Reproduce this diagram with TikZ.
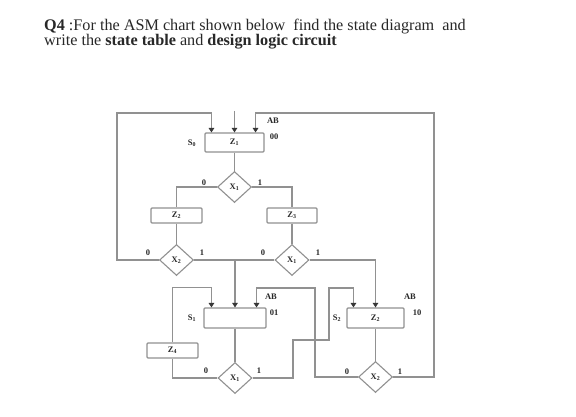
\documentclass[tikz,border=0pt]{standalone}
\usepackage{fontspec}
\setmainfont{Liberation Serif}
\usetikzlibrary{shapes.geometric,arrows.meta,calc}
\definecolor{lgray}{RGB}{145,145,145}
\definecolor{agray}{RGB}{55,55,55}
\definecolor{tgray}{RGB}{40,40,40}
\newcommand\dlbl{\fontsize{8.5}{9}\selectfont\bfseries}
\begin{document}
\begin{tikzpicture}[x=1pt,y=-1pt,
  ln/.style={draw=lgray,line width=1.3pt},
  arr/.style={draw=lgray,line width=1.3pt,-{Triangle[width=5.5pt,length=4.5pt,color=agray]}},
  box/.style={draw=lgray,line width=1.1pt,rounded corners=1pt,minimum height=19pt,inner sep=0pt,font=\dlbl,text=tgray},
  dia/.style={diamond,draw=lgray,line width=1.1pt,minimum width=34pt,minimum height=31pt,inner sep=0pt,font=\dlbl,text=tgray},
  lab/.style={font=\dlbl,text=tgray,inner sep=0pt},
  ttl/.style={anchor=base west,inner sep=0pt,text=tgray,font=\fontsize{16.2}{16}\selectfont}]
\useasboundingbox[fill=white] (0,0) rectangle (576,417);
% title
\node[ttl] (t1) at (44,30.5) {\textbf{Q4} :For the ASM chart shown below\ \ find the state diagram\ \ and};
\node[ttl] (t2) at (44,46) {write the \textbf{state table} and \textbf{design logic circuit}};
% nodes
\node[box,minimum width=59pt] (s0) at (234.5,142.5) {Z\textsubscript{1}};
\node[dia] (d1) at (234.5,187) {X\textsubscript{1}};
\node[box,minimum width=51pt,minimum height=15pt] (z2) at (176.5,215.5) {Z\textsubscript{2}};
\node[box,minimum width=50pt,minimum height=15pt] (z3) at (292,215.5) {Z\textsubscript{3}};
\node[dia] (d2) at (176.5,260) {X\textsubscript{2}};
\node[dia] (d3) at (292,260) {X\textsubscript{1}};
\node[box,minimum width=62pt,minimum height=20pt] (s1) at (235,318) {};
\node[dia] (d4) at (235,378) {X\textsubscript{1}};
\node[box,minimum width=51pt,minimum height=15pt] (z4) at (172.5,350.5) {Z\textsubscript{4}};
\node[box,minimum width=57pt,minimum height=20pt] (s2) at (375.5,318) {Z\textsubscript{2}};
\node[dia] (d5) at (375.5,377) {X\textsubscript{2}};
% coordinates
\coordinate (top) at (234.5,111);
\coordinate (c1) at (117,113);
\coordinate (c2) at (434,113);
\coordinate (c4) at (293,340);
\coordinate (c5) at (329,288);
\coordinate (c6) at (315,288);
\coordinate (s0a) at ($(s0.north west)+(7,0)$);
\coordinate (s0c) at ($(s0.north east)+(-9,0)$);
\coordinate (s1a) at ($(s1.north west)+(8,0)$);
\coordinate (s1c) at ($(s1.north east)+(-10,0)$);
\coordinate (s2a) at ($(s2.north west)+(7,0)$);
% connectors
\draw[arr] (top) -- (s0.north);
\draw[arr] (d2.west) -| (c1) -| (s0a);
\draw[arr] (d5.east) -| (c2) -| (s0c);
\draw[ln] (s0.south) -- (d1.north);
\draw[ln] (d1.west) -| (z2.north);
\draw[ln] (d1.east) -| (z3.north);
\draw[ln] (z2.south) -- (d2.north);
\draw[ln] (z3.south) -- (d3.north);
\draw[ln] (d2.east) -- (d3.west);
\draw[arr] (s1.north |- d2.east) -- (s1.north);
\draw[arr] (d3.east) -| (s2.north);
\draw[ln] (s1.south) -- (d4.north);
\draw[ln] (d4.west) -| (z4.south);
\draw[arr] (z4.north) |- ($(s1a)+(0,-20)$) -- (s1a);
\draw[arr] (d4.east) -| (c4) -| (c5) -| (s2a);
\draw[arr] (d5.west) -| (c6) -| (s1c);
\draw[ln] (s2.south) -- (d5.north);
% labels
\node[lab] (ls0) at (192,143) {S\textsubscript{0}};
\node[lab] (ab0) at (273,121) {AB};
\node[lab] (v00) at (274,137) {00};
\node[lab] (a1) at (204,183) {0};
\node[lab] (b1) at (260,183) {1};
\node[lab] (a2) at (148,253) {0};
\node[lab] (b2) at (202,253) {1};
\node[lab] (a3) at (263,253) {0};
\node[lab] (b3) at (318,253) {1};
\node[lab] (ls1) at (192,318) {S\textsubscript{1}};
\node[lab] (ab1) at (271,297) {AB};
\node[lab] (v01) at (274,313) {01};
\node[lab] (a4) at (206,371) {0};
\node[lab] (b4) at (259,371) {1};
\node[lab] (ls2) at (337,318) {S\textsubscript{2}};
\node[lab] (ab2) at (410,297) {AB};
\node[lab] (v10) at (417,313) {10};
\node[lab] (a5) at (347,372) {0};
\node[lab] (b5) at (400,372) {1};
\end{tikzpicture}
\end{document}
